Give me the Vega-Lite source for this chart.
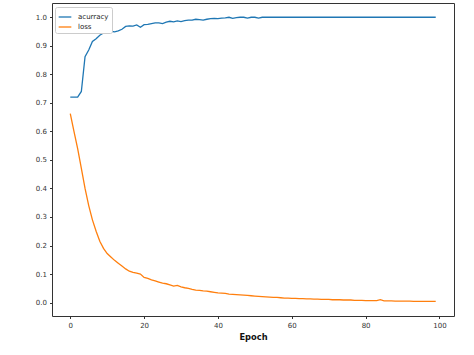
{
  "$schema": "https://vega.github.io/schema/vega-lite/v6.json",
  "autosize": "none",
  "padding": {"left": 52, "top": 3, "right": 20, "bottom": 39},
  "width": 402,
  "height": 313,
  "background": "white",
  "config": {
    "view": {"stroke": "#333", "strokeWidth": 1},
    "font": "DejaVu Sans",
    "axis": {"grid": false, "domain": false, "tickColor": "#333", "tickSize": 2.5, "labelColor": "#333", "labelFontSize": 7, "labelPadding": 3}
  },
  "data": {"values": [
    {"e":0,"acurracy":0.720,"loss":0.662},{"e":1,"acurracy":0.720,"loss":0.600},{"e":2,"acurracy":0.720,"loss":0.540},{"e":3,"acurracy":0.740,"loss":0.470},{"e":4,"acurracy":0.862,"loss":0.400},
    {"e":5,"acurracy":0.885,"loss":0.340},{"e":6,"acurracy":0.915,"loss":0.290},{"e":7,"acurracy":0.925,"loss":0.250},{"e":8,"acurracy":0.937,"loss":0.215},{"e":9,"acurracy":0.945,"loss":0.190},
    {"e":10,"acurracy":0.952,"loss":0.172},{"e":11,"acurracy":0.951,"loss":0.160},{"e":12,"acurracy":0.949,"loss":0.148},{"e":13,"acurracy":0.952,"loss":0.138},{"e":14,"acurracy":0.958,"loss":0.128},
    {"e":15,"acurracy":0.968,"loss":0.118},{"e":16,"acurracy":0.970,"loss":0.110},{"e":17,"acurracy":0.969,"loss":0.106},{"e":18,"acurracy":0.973,"loss":0.103},{"e":19,"acurracy":0.965,"loss":0.100},
    {"e":20,"acurracy":0.974,"loss":0.088},{"e":21,"acurracy":0.975,"loss":0.085},{"e":22,"acurracy":0.978,"loss":0.080},{"e":23,"acurracy":0.980,"loss":0.076},{"e":24,"acurracy":0.980,"loss":0.072},
    {"e":25,"acurracy":0.978,"loss":0.068},{"e":26,"acurracy":0.983,"loss":0.066},{"e":27,"acurracy":0.986,"loss":0.062},{"e":28,"acurracy":0.984,"loss":0.058},{"e":29,"acurracy":0.987,"loss":0.060},
    {"e":30,"acurracy":0.985,"loss":0.055},{"e":31,"acurracy":0.988,"loss":0.052},{"e":32,"acurracy":0.990,"loss":0.050},{"e":33,"acurracy":0.990,"loss":0.046},{"e":34,"acurracy":0.993,"loss":0.044},
    {"e":35,"acurracy":0.992,"loss":0.043},{"e":36,"acurracy":0.990,"loss":0.041},{"e":37,"acurracy":0.993,"loss":0.040},{"e":38,"acurracy":0.995,"loss":0.038},{"e":39,"acurracy":0.996,"loss":0.036},
    {"e":40,"acurracy":0.995,"loss":0.034},{"e":41,"acurracy":0.997,"loss":0.033},{"e":42,"acurracy":0.998,"loss":0.032},{"e":43,"acurracy":1.0,"loss":0.030},{"e":44,"acurracy":0.996,"loss":0.029},
    {"e":45,"acurracy":0.999,"loss":0.028},{"e":46,"acurracy":1.0,"loss":0.027},{"e":47,"acurracy":1.0,"loss":0.026},{"e":48,"acurracy":0.997,"loss":0.025},{"e":49,"acurracy":1.0,"loss":0.024},
    {"e":50,"acurracy":1.0,"loss":0.023},{"e":51,"acurracy":0.997,"loss":0.022},{"e":52,"acurracy":1.0,"loss":0.021},{"e":53,"acurracy":1.0,"loss":0.020},{"e":54,"acurracy":1.0,"loss":0.019},
    {"e":55,"acurracy":1.0,"loss":0.018},{"e":56,"acurracy":1.0,"loss":0.018},{"e":57,"acurracy":1.0,"loss":0.017},{"e":58,"acurracy":1.0,"loss":0.016},{"e":59,"acurracy":1.0,"loss":0.016},
    {"e":60,"acurracy":1.0,"loss":0.015},{"e":61,"acurracy":1.0,"loss":0.015},{"e":62,"acurracy":1.0,"loss":0.014},{"e":63,"acurracy":1.0,"loss":0.014},{"e":64,"acurracy":1.0,"loss":0.013},
    {"e":65,"acurracy":1.0,"loss":0.013},{"e":66,"acurracy":1.0,"loss":0.012},{"e":67,"acurracy":1.0,"loss":0.012},{"e":68,"acurracy":1.0,"loss":0.011},{"e":69,"acurracy":1.0,"loss":0.011},
    {"e":70,"acurracy":1.0,"loss":0.011},{"e":71,"acurracy":1.0,"loss":0.010},{"e":72,"acurracy":1.0,"loss":0.010},{"e":73,"acurracy":1.0,"loss":0.010},{"e":74,"acurracy":1.0,"loss":0.009},
    {"e":75,"acurracy":1.0,"loss":0.009},{"e":76,"acurracy":1.0,"loss":0.009},{"e":77,"acurracy":1.0,"loss":0.008},{"e":78,"acurracy":1.0,"loss":0.008},{"e":79,"acurracy":1.0,"loss":0.008},
    {"e":80,"acurracy":1.0,"loss":0.007},{"e":81,"acurracy":1.0,"loss":0.007},{"e":82,"acurracy":1.0,"loss":0.007},{"e":83,"acurracy":1.0,"loss":0.007},{"e":84,"acurracy":1.0,"loss":0.010},
    {"e":85,"acurracy":1.0,"loss":0.006},{"e":86,"acurracy":1.0,"loss":0.006},{"e":87,"acurracy":1.0,"loss":0.006},{"e":88,"acurracy":1.0,"loss":0.005},{"e":89,"acurracy":1.0,"loss":0.005},
    {"e":90,"acurracy":1.0,"loss":0.005},{"e":91,"acurracy":1.0,"loss":0.005},{"e":92,"acurracy":1.0,"loss":0.005},{"e":93,"acurracy":1.0,"loss":0.004},{"e":94,"acurracy":1.0,"loss":0.004},
    {"e":95,"acurracy":1.0,"loss":0.004},{"e":96,"acurracy":1.0,"loss":0.004},{"e":97,"acurracy":1.0,"loss":0.004},{"e":98,"acurracy":1.0,"loss":0.004},{"e":99,"acurracy":1.0,"loss":0.004}
  ]},
  "transform": [{"fold": ["acurracy", "loss"], "as": ["series", "value"]}],
  "mark": {"type": "line", "strokeWidth": 1.3, "clip": true},
  "encoding": {
    "x": {"field": "e", "type": "quantitative",
      "scale": {"domain": [-4.95, 103.95], "nice": false, "zero": false},
      "axis": {"values": [0, 20, 40, 60, 80, 100], "title": "Epoch", "titleFontWeight": "bold", "titleFontSize": 8.3, "titleColor": "#111", "titlePadding": 4}},
    "y": {"field": "value", "type": "quantitative",
      "scale": {"domain": [-0.047, 1.05], "nice": false, "zero": false},
      "axis": {"values": [0, 0.1, 0.2, 0.3, 0.4, 0.5, 0.6, 0.7, 0.8, 0.9, 1.0], "format": ".1f", "title": null}},
    "color": {"field": "series", "type": "nominal",
      "scale": {"domain": ["acurracy", "loss"], "range": ["#1f77b4", "#ff7f0e"]},
      "legend": {"title": null, "orient": "none", "legendX": 3, "legendY": 4, "symbolType": "stroke", "symbolSize": 160, "symbolStrokeWidth": 1.3, "labelFontSize": 7, "labelColor": "#222", "padding": 3, "rowPadding": 0, "strokeColor": "#ccc", "fillColor": "white", "cornerRadius": 2, "symbolOffset": 0, "labelOffset": 6}}
  }
}
